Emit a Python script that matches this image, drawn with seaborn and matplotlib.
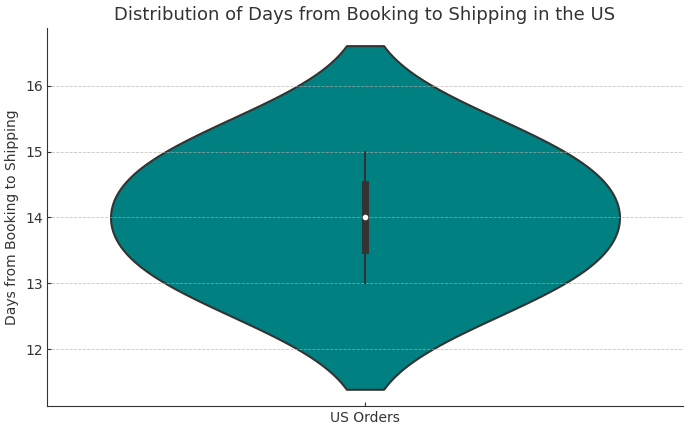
import pandas as pd
import matplotlib.pyplot as plt
import seaborn as sns

# Days from booking to shipping for US orders
days = [13, 14, 15]
category = ["US Orders"] * len(days)

df = pd.DataFrame({"Region": category, "Days": days})

fig, ax = plt.subplots(figsize=(6.9, 4.38), dpi=100)
sns.violinplot(x="Region", y="Days", data=df, color="#008080", saturation=1,
               linecolor="#333333", linewidth=1.5, inner="box",
               inner_kws=dict(box_width=5, whis_width=1.5, marker="o", markersize=3),
               bw_method="scott", cut=2, width=0.8, ax=ax)

ax.set_title("Distribution of Days from Booking to Shipping in the US", fontsize=13, color="#333333")
ax.set_xlabel("")
ax.set_ylabel("Days from Booking to Shipping", fontsize=10, color="#333333", labelpad=4)
ax.tick_params(axis="both", direction="in", length=3, width=0.8, pad=3,
               labelsize=10, labelcolor="#333333", color="#333333")
ax.grid(axis="y", linestyle="--", linewidth=0.6, color="#b0b0b0", alpha=0.7)
ax.spines["top"].set_visible(False)
ax.spines["right"].set_visible(False)
ax.spines["left"].set_color("#333333")
ax.spines["bottom"].set_color("#333333")

plt.subplots_adjust(left=0.068, right=0.99, top=0.935, bottom=0.072)
plt.savefig("out.png", dpi=100)
